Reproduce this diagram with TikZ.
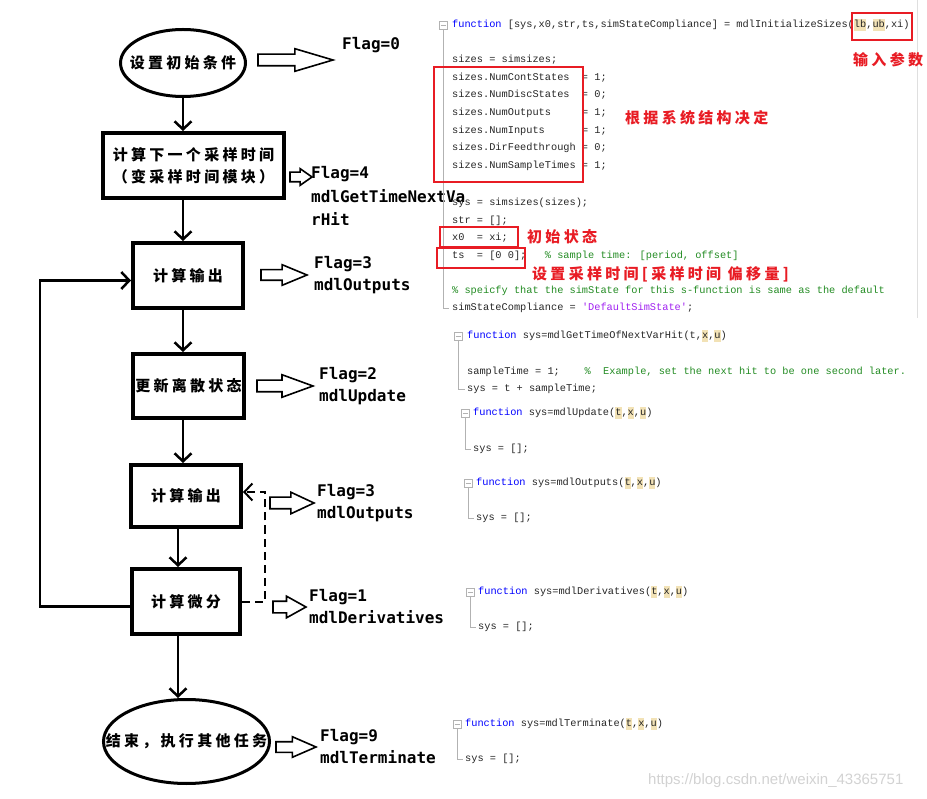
\documentclass[tikz,border=0pt]{standalone}
\usepackage{fontspec}
\newfontfamily\cjk[LetterSpace=22]{Noto Sans CJK SC}
\newfontfamily\flagfont{DejaVu Sans Mono}
\newfontfamily\codefont[Ligatures=TeXOff]{Liberation Mono}
\newfontfamily\wmfont{Liberation Sans}
\usetikzlibrary{shapes.geometric, shapes.arrows, arrows.meta, positioning}

\definecolor{kwblue}{RGB}{0,0,255}
\definecolor{cmgreen}{RGB}{34,139,34}
\definecolor{strpurple}{RGB}{160,32,240}
\definecolor{hlbeige}{RGB}{242,226,182}
\definecolor{markred}{RGB}{232,28,36}
\newcommand{\kw}[1]{\textcolor{kwblue}{#1}}
\newcommand{\cmt}[1]{\textcolor{cmgreen}{#1}}
\newcommand{\strg}[1]{\textcolor{strpurple}{#1}}
\newcommand{\hlarg}[1]{{\setlength{\fboxsep}{0pt}\colorbox{hlbeige}{\strut #1}}}

\begin{document}
\begin{tikzpicture}[x=1pt, y=-1pt,
    term/.style={ellipse, draw, line width=3pt, inner sep=0pt, font=\cjk\bfseries\fontsize{15}{22}\selectfont},
    proc/.style={rectangle, draw, line width=4pt, inner sep=0pt, align=center, font=\cjk\bfseries\fontsize{15}{22}\selectfont},
    flow/.style={line width=2.5pt, -{Straight Barb[length=8pt, width=17pt]}},
    hollow/.style={single arrow, draw, line width=1.6pt, inner xsep=0pt, inner ysep=5pt, outer sep=0pt, anchor=tail},
    flag/.style={font=\flagfont\bfseries\fontsize{16}{22}\selectfont, align=left, anchor=west, inner sep=0pt},
    code/.style={font=\codefont\fontsize{10.3}{12}\selectfont, anchor=west, inner sep=0pt, text height=7.5pt, text depth=2.5pt, text=black!85},
    foldbox/.style={draw=gray!60, line width=0.7pt, minimum size=8pt, inner sep=0pt, outer sep=0pt,
      path picture={\draw[gray!60, line width=0.7pt] ([xshift=-2.5pt]path picture bounding box.center) -- ([xshift=2.5pt]path picture bounding box.center);}},
    fold/.style={draw=gray!60, line width=0.7pt},
    redbox/.style={draw=markred, line width=2pt},
    note/.style={text=markred, font=\cjk\bfseries\fontsize{15}{15}\selectfont, anchor=west, inner sep=0pt}
  ]
  \useasboundingbox (0,0) rectangle (927,799);

  % flow chart
  \node[term, minimum width=125pt, minimum height=67pt] (init) at (183,63) {\makebox[0pt]{设置初始条件}};
  \node[proc, minimum width=181pt, minimum height=65pt] (nexthit) at (193.5,165.5) {计算下一个采样时间\\（变采样时间模块）};
  \node[proc, minimum width=110pt, minimum height=65pt] (out1) at (188,275.5) {计算输出};
  \node[proc, minimum width=111pt, minimum height=64pt] (update) at (188.5,386) {更新离散状态};
  \node[proc, minimum width=110pt, minimum height=62pt] (out2) at (186,496) {计算输出};
  \node[proc, minimum width=108pt, minimum height=65pt] (deriv) at (186,601.5) {计算微分};
  \node[term, minimum width=166pt, minimum height=84pt] (finish) at (186.5,741.5) {\makebox[0pt]{结束，执行其他任务}};

  \coordinate (mid) at (178,0);
  \coordinate (loop) at (40,0);
  \coordinate (dash) at (265,0);
  \draw[flow] (init) -- (init |- nexthit.north);
  \draw[flow] (nexthit.south -| init) -- (out1.north -| init);
  \draw[flow] (out1.south -| init) -- (update.north -| init);
  \draw[flow] (update.south -| init) -- (out2.north -| init);
  \draw[flow] (out2.south -| mid) -- (deriv.north -| mid);
  \draw[flow] (deriv.south -| mid) -- (finish.north -| mid);
  \draw[flow] ([yshift=-5pt]deriv.west) -- ([yshift=-5pt]deriv.west -| loop) |- ([yshift=-5pt]out1.west);
  \draw[flow, line width=2pt, dash pattern=on 8pt off 5pt] (deriv.east) -- (deriv.east -| dash) |- ([yshift=4pt]out2.east);

  % flags
  \node[hollow, minimum height=75pt, single arrow head extend=5.5pt, single arrow tip angle=33] (a0) at (258,60) {};
  \node[flag] (f0) at (342,45) {Flag=0};
  \node[hollow, minimum height=22pt, inner ysep=4pt, single arrow head extend=3.5pt, single arrow tip angle=70] (a4) at (290,177) {};
  \node[flag, font=\flagfont\bfseries\fontsize{16}{23.5}\selectfont] (f4) at (311,196) {Flag=4\\mdlGetTimeNextVa\\rHit};
  \node[hollow, minimum height=46pt, inner ysep=4.5pt, single arrow head extend=5pt, single arrow tip angle=45] (a3) at (261,275) {};
  \node[flag, right=7pt of a3.tip] (f3) {Flag=3\\mdlOutputs};
  \node[hollow, minimum height=56pt, single arrow head extend=5.5pt, single arrow tip angle=40] (a2) at (257,386) {};
  \node[flag, right=6pt of a2.tip] (f2) {Flag=2\\mdlUpdate};
  \node[hollow, minimum height=44pt, single arrow head extend=5pt, single arrow tip angle=50] (a3b) at (270,503) {};
  \node[flag, right=3pt of a3b.tip] (f3b) {Flag=3\\mdlOutputs};
  \node[hollow, minimum height=33pt, single arrow head extend=5pt, single arrow tip angle=58] (a1) at (273,607) {};
  \node[flag, right=3pt of a1.tip] (f1) {Flag=1\\mdlDerivatives};
  \node[hollow, minimum height=40pt, inner ysep=4.5pt, single arrow head extend=5pt, single arrow tip angle=47] (a9) at (276,747) {};
  \node[flag, right=4pt of a9.tip] (f9) {Flag=9\\mdlTerminate};

  % mdlInitializeSizes
  \draw[gray!25, line width=1pt] (917,0) -- (917,318);
  \node[foldbox] (fd0) at (443,25) {};
  \draw[fold] (fd0.south) |- (449,308);
  \node[code] (i0) at (452,25) {\kw{function} [sys,x0,str,ts,simStateCompliance] = mdlInitializeSizes(\hlarg{lb},\hlarg{ub},xi)};
  \node[code] (i1) at (452,60) {sizes = simsizes;};
  \node[code] (i2) at (452,78) {sizes.NumContStates~~= 1;};
  \node[code] (i3) at (452,95) {sizes.NumDiscStates~~= 0;};
  \node[code] (i4) at (452,113) {sizes.NumOutputs~~~~~= 1;};
  \node[code] (i5) at (452,131) {sizes.NumInputs~~~~~~= 1;};
  \node[code] (i6) at (452,148) {sizes.DirFeedthrough = 0;};
  \node[code] (i7) at (452,166) {sizes.NumSampleTimes = 1;};
  \node[code] (i8) at (452,203) {sys = simsizes(sizes);};
  \node[code] (i9) at (452,221) {str = [];};
  \node[code] (i10) at (452,238) {x0~~= xi;};
  \node[code] (i11) at (452,256) {ts~~= [0 0];~~~\cmt{\% sample time: [period, offset]}};
  \node[code] (i12) at (452,291) {\cmt{\% speicfy that the simState for this s-function is same as the default}};
  \node[code] (i13) at (452,308) {simStateCompliance = \strg{'DefaultSimState'};};

  \draw[redbox] (852,13) rectangle (912,40);
  \draw[redbox] (434,67) rectangle (583,182);
  \draw[redbox] (440,227) rectangle (518,247);
  \draw[redbox] (437,248) rectangle (525,268);
  \node[note] (n1) at (853,60) {输入参数};
  \node[note] (n2) at (625,118) {根据系统结构决定};
  \node[note] (n3) at (527,237) {初始状态};
  \node[note] (n4) at (532,274) {设置采样时间[采样时间 偏移量]};

  % mdlGetTimeOfNextVarHit
  \node[foldbox] (fd1) at (458,336) {};
  \draw[fold] (fd1.south) |- (465,389);
  \node[code] (h0) at (467,336) {\kw{function} sys=mdlGetTimeOfNextVarHit(t,\hlarg{x},\hlarg{u})};
  \node[code] (h1) at (467,372) {sampleTime = 1;~~~~\cmt{\%~~Example, set the next hit to be one second later.}};
  \node[code] (h2) at (467,389) {sys = t + sampleTime;};

  % mdlUpdate
  \node[foldbox] (fd2) at (465,413) {};
  \draw[fold] (fd2.south) |- (471,449);
  \node[code] (u0) at (473,413) {\kw{function} sys=mdlUpdate(\hlarg{t},\hlarg{x},\hlarg{u})};
  \node[code] (u1) at (473,449) {sys = [];};

  % mdlOutputs
  \node[foldbox] (fd3) at (468,483) {};
  \draw[fold] (fd3.south) |- (474,518);
  \node[code] (o0) at (476,483) {\kw{function} sys=mdlOutputs(\hlarg{t},\hlarg{x},\hlarg{u})};
  \node[code] (o1) at (476,518) {sys = [];};

  % mdlDerivatives
  \node[foldbox] (fd4) at (470,592) {};
  \draw[fold] (fd4.south) |- (476,627);
  \node[code] (d0) at (478,592) {\kw{function} sys=mdlDerivatives(\hlarg{t},\hlarg{x},\hlarg{u})};
  \node[code] (d1) at (478,627) {sys = [];};

  % mdlTerminate
  \node[foldbox] (fd5) at (457,724) {};
  \draw[fold] (fd5.south) |- (463,759);
  \node[code] (t0) at (465,724) {\kw{function} sys=mdlTerminate(\hlarg{t},\hlarg{x},\hlarg{u})};
  \node[code] (t1) at (465,759) {sys = [];};

  \node[anchor=west, inner sep=0pt, text=gray!35, font=\wmfont\fontsize{15}{15}\selectfont] (wm) at (648,781) {https://blog.csdn.net/weixin\_43365751};
\end{tikzpicture}
\end{document}
